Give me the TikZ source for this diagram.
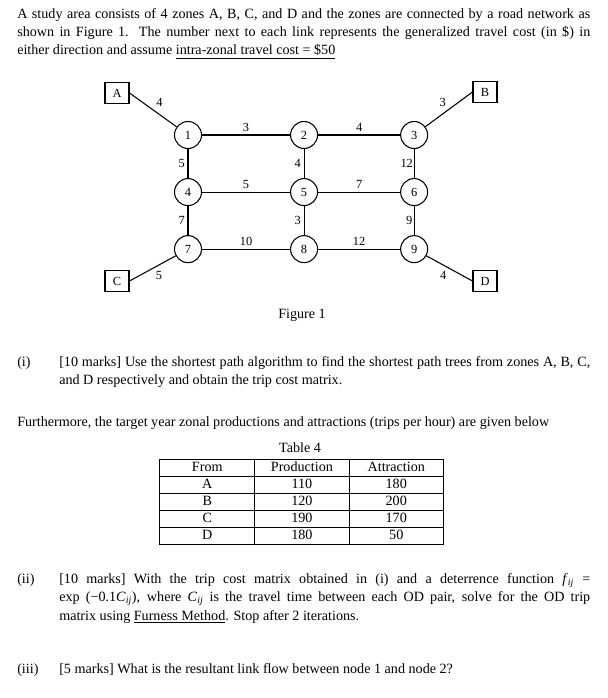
\documentclass[tikz,border=0pt]{standalone}
\usepackage{fontspec}
\setmainfont{Liberation Serif}
\usepackage{array}
\usetikzlibrary{positioning}
\newcolumntype{C}[1]{>{\centering\arraybackslash}p{#1}}
\setlength{\arrayrulewidth}{0.75pt}
\newcommand{\bodyfont}{\fontsize{10.6}{13}\selectfont}
\newcommand{\figfont}{\fontsize{9.3}{11}\selectfont}
\newcommand{\tabfont}{\fontsize{10.6}{12}\selectfont}
\newcommand{\fullline}[1]{\makebox[429.75pt][s]{#1}}
\newcommand{\itemline}[1]{\makebox[398.25pt][s]{#1}}
\newcommand{\sub}[2]{\textit{#1}\textsubscript{\textit{#2}}}

\begin{document}
\begin{tikzpicture}[x=0.75pt, y=-0.75pt, every node/.style={font=\figfont},
    zone/.style={draw, rectangle, line width=0.8pt, minimum width=18pt, minimum height=16pt, inner sep=0pt},
    junction/.style={draw, circle, line width=0.8pt, minimum size=20.25pt, inner sep=0pt},
    link/.style={draw, line width=0.8pt},
    cost/.style={inner sep=2pt, font=\figfont},
    textline/.style={anchor=base west, inner sep=0pt, font=\bodyfont}]
    \path [use as bounding box, fill=white] (0,0) rectangle (607,698);

    % Question text
    \node [textline] (intro1) at (17,19) {\fullline{A study area consists of 4 zones A, B, C, and D and the zones are connected by a road network as}};
    \node [textline] (intro2) at (17,37) {\fullline{shown in Figure 1. The number next to each link represents the generalized travel cost (in \$) in}};
    \node [textline] (intro3) at (17,55) {either direction and assume \underline{intra-zonal travel cost = \$50}};

    % Network nodes
    \node [junction] (n1) at (188,135) {1};
    \node [junction, right=66pt of n1] (n2) {2};
    \node [junction, right=61.5pt of n2] (n3) {3};
    \node [junction, below=21.75pt of n1] (n4) {4};
    \node [junction, below=21.75pt of n2] (n5) {5};
    \node [junction, below=21.75pt of n3] (n6) {6};
    \node [junction, below=21.75pt of n4] (n7) {7};
    \node [junction, below=21.75pt of n5] (n8) {8};
    \node [junction, below=21.75pt of n6] (n9) {9};
    \node [zone] (A) at (117,93) {A};
    \node [zone] (B) at (485,92) {B};
    \node [zone] (C) at (117,281) {C};
    \node [zone] (D) at (485,281) {D};

    % Links
    \path [link] (A.east) -- node [cost, anchor=south west] {4} (n1);
    \path [link] (C.east) -- node [cost, anchor=north west] {5} (n7);
    \path [link] (B.west) -- node [cost, anchor=south east] {3} (n3);
    \path [link] (n9) -- node [cost, anchor=north east] {4} (D.west);
    \path [link] (n1) -- node [cost, above] {3} (n2);
    \path [link] (n2) -- node [cost, above] {4} (n3);
    \path [link] (n4) -- node [cost, above] {5} (n5);
    \path [link] (n5) -- node [cost, above] {7} (n6);
    \path [link] (n7) -- node [cost, above] {10} (n8);
    \path [link] (n8) -- node [cost, above] {12} (n9);
    \path [link] (n1) -- node [cost, left] {5} (n4);
    \path [link] (n4) -- node [cost, left] {7} (n7);
    \path [link] (n2) -- node [cost, left] {4} (n5);
    \path [link] (n5) -- node [cost, left] {3} (n8);
    \path [link] (n3) -- node [cost, left, inner sep=0.5pt] {12} (n6);
    \path [link] (n6) -- node [cost, left, inner sep=1pt] {9} (n9);

    \node [textline, anchor=base] (fig1) at (302,318) {Figure 1};

    % Part (i)
    \node [textline] (qi) at (17,366) {(i)};
    \node [textline] (qi1) at (59,366) {\itemline{[10 marks] Use the shortest path algorithm to find the shortest path trees from zones A, B, C,}};
    \node [textline] (qi2) at (59,384) {and D respectively and obtain the trip cost matrix.};
    \node [textline] (further) at (17,426) {Furthermore, the target year zonal productions and attractions (trips per hour) are given below};

    % Table 4
    \node [textline, anchor=base] (tab4cap) at (300,452) {Table 4};
    \node [anchor=north west, inner sep=0pt, font=\tabfont] (tab4) at (159,459) {\setlength{\tabcolsep}{0pt}%
        \begin{tabular}{|C{70.5pt}|C{70pt}|C{70pt}|}
            \hline
            From & Production & Attraction\\ \hline
            A & 110 & 180\\ \hline
            B & 120 & 200\\ \hline
            C & 190 & 170\\ \hline
            D & 180 & 50\\ \hline
        \end{tabular}};

    % Parts (ii) and (iii)
    \node [textline] (qii) at (17,583) {(ii)};
    \node [textline] (qii1) at (59,583) {\itemline{[10 marks] With the trip cost matrix obtained in (i) and a deterrence function \sub{f}{ij} =}};
    \node [textline] (qii2) at (59,601) {\itemline{exp (−0.1\sub{C}{ij}), where \sub{C}{ij} is the travel time between each OD pair, solve for the OD trip}};
    \node [textline] (qii3) at (59,620) {matrix using \underline{Furness Method}. Stop after 2 iterations.};
    \node [textline] (qiii) at (17,673) {(iii)};
    \node [textline] (qiii1) at (59,673) {[5 marks] What is the resultant link flow between node 1 and node 2?};
\end{tikzpicture}
\end{document}
